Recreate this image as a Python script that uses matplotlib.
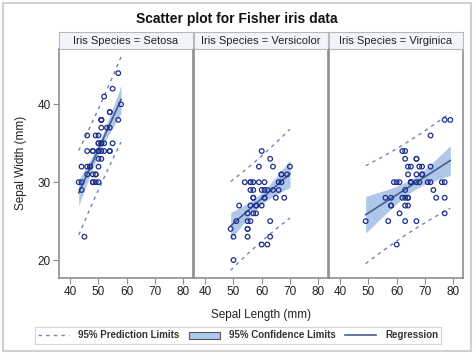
import matplotlib
matplotlib.use("Agg")
import matplotlib.pyplot as plt
from matplotlib.patches import Rectangle, Patch
from matplotlib.lines import Line2D
import numpy as np

plt.rcParams['font.family'] = ['Liberation Sans', 'DejaVu Sans']

# Fisher iris data, sepal length / width in mm
setosa_len = [51, 49, 47, 46, 50, 54, 46, 50, 44, 49, 54, 48, 48, 43, 58, 57, 54, 51, 57, 51,
              54, 51, 46, 51, 48, 50, 50, 52, 52, 47, 48, 54, 52, 55, 49, 50, 55, 49, 44, 51,
              50, 45, 44, 50, 51, 48, 51, 46, 53, 50]
setosa_wid = [35, 30, 32, 31, 36, 39, 34, 34, 29, 31, 37, 34, 30, 30, 40, 44, 39, 35, 38, 38,
              34, 37, 36, 33, 34, 30, 34, 35, 34, 32, 31, 34, 41, 42, 31, 32, 35, 36, 30, 34,
              35, 23, 32, 35, 38, 30, 38, 32, 37, 33]
versicolor_len = [70, 64, 69, 55, 65, 57, 63, 49, 66, 52, 50, 59, 60, 61, 56, 67, 56, 58, 62, 56,
                  59, 61, 63, 61, 64, 66, 68, 67, 60, 57, 55, 55, 58, 60, 54, 60, 67, 63, 56, 55,
                  55, 61, 58, 50, 56, 57, 57, 62, 51, 57]
versicolor_wid = [32, 32, 31, 23, 28, 28, 33, 24, 29, 27, 20, 30, 22, 29, 29, 31, 30, 27, 22, 25,
                  32, 28, 25, 28, 29, 30, 28, 30, 29, 26, 24, 24, 27, 27, 30, 34, 31, 23, 30, 25,
                  26, 30, 26, 23, 27, 30, 29, 29, 25, 28]
virginica_len = [63, 58, 71, 63, 65, 76, 49, 73, 67, 72, 65, 64, 68, 57, 58, 64, 65, 77, 77, 60,
                 69, 56, 77, 63, 67, 72, 62, 61, 64, 72, 74, 79, 64, 63, 61, 77, 63, 64, 60, 69,
                 67, 69, 58, 68, 67, 67, 63, 65, 62, 59]
virginica_wid = [33, 27, 30, 29, 30, 30, 25, 29, 25, 36, 32, 27, 30, 25, 28, 32, 30, 38, 26, 22,
                 32, 28, 28, 27, 33, 32, 28, 30, 28, 30, 28, 38, 28, 28, 26, 30, 34, 31, 30, 31,
                 31, 31, 27, 32, 33, 30, 25, 30, 34, 30]

species = ['Setosa', 'Versicolor', 'Virginica']
lengths = [setosa_len, versicolor_len, virginica_len]
widths = [setosa_wid, versicolor_wid, virginica_wid]
t_crit = 2.0106  # t(0.975, df=48)

W, H = 474, 355
fig = plt.figure(figsize=(W / 100, H / 100), dpi=100)

marker_col = '#1C2F8C'
reg_col = '#4A5A8E'
band_col = '#AFC8E9'
pi_col = '#7482B4'
frame_col = '#8E8E8E'

panels = [(59, 193), (194, 328), (329, 463)]
top, bottom, head_top = 49, 278, 32


def px(x0, x1, y0, y1):
    return [x0 / W, 1 - y1 / H, (x1 - x0) / W, (y1 - y0) / H]


for i, (x0, x1) in enumerate(panels):
    ax = fig.add_axes(px(x0, x1, top, bottom))
    x = np.array(lengths[i], float)
    y = np.array(widths[i], float)
    n = len(x)
    b, a = np.polyfit(x, y, 1)
    resid = y - (a + b * x)
    s = np.sqrt(np.sum(resid ** 2) / (n - 2))
    sxx = np.sum((x - x.mean()) ** 2)
    xs = np.linspace(x.min(), x.max(), 100)
    fit = a + b * xs
    se_m = s * np.sqrt(1 / n + (xs - x.mean()) ** 2 / sxx)
    se_p = s * np.sqrt(1 + 1 / n + (xs - x.mean()) ** 2 / sxx)
    ax.fill_between(xs, fit - t_crit * se_m, fit + t_crit * se_m, color=band_col,
                    lw=0, zorder=1)
    ax.plot(xs, fit, color=reg_col, lw=1.2, zorder=2)
    ax.plot(xs, fit - t_crit * se_p, color=pi_col, lw=1, ls=(0, (2.5, 3)), zorder=2)
    ax.plot(xs, fit + t_crit * se_p, color=pi_col, lw=1, ls=(0, (2.5, 3)), zorder=2)
    ax.scatter(x, y, s=11, facecolors='none', edgecolors=marker_col, linewidths=0.9, zorder=3)

    ax.set_xlim(36, 83.5)
    ax.set_ylim(17.7, 47.1)
    ax.set_xticks([40, 50, 60, 70, 80])
    ax.tick_params(axis='x', direction='out', length=4, color=frame_col, labelsize=8.5,
                   labelcolor='#222222', pad=2)
    if i == 0:
        ax.set_yticks([20, 30, 40])
        ax.tick_params(axis='y', direction='out', length=4, color=frame_col, labelsize=8.5,
                       labelcolor='#222222', pad=2)
    else:
        ax.set_yticks([])
    for sp in ax.spines.values():
        sp.set_color(frame_col)
        sp.set_linewidth(1.2)

    hax = fig.add_axes(px(x0, x1, head_top, top))
    hax.set_xticks([])
    hax.set_yticks([])
    hax.set_facecolor('#F1F4FA')
    for sp in hax.spines.values():
        sp.set_color('#B8B8B8')
        sp.set_linewidth(0.8)
    hax.text(0.5, 0.5, 'Iris Species = ' + species[i], ha='center', va='center',
             fontsize=8, color='#222222', transform=hax.transAxes)

fig.text(237 / W, 1 - 19 / H, 'Scatter plot for Fisher iris data', ha='center', va='center',
         fontsize=10, fontweight='bold', color='#111111')
fig.text(261 / W, 1 - 315 / H, 'Sepal Length (mm)', ha='center', va='center',
         fontsize=8.5, color='#222222')
fig.text(21 / W, 1 - 163 / H, 'Sepal Width (mm)', ha='center', va='center',
         fontsize=8.5, color='#222222', rotation=90)

handles = [Line2D([], [], color=pi_col, lw=1, ls=(0, (2.5, 3))),
           Patch(facecolor=band_col, edgecolor='#555555', lw=0.8),
           Line2D([], [], color=reg_col, lw=1.2)]
labels = ['95% Prediction Limits', '95% Confidence Limits', 'Regression']
leg = fig.legend(handles, labels, loc='center', bbox_to_anchor=(238 / W, 1 - 335.5 / H),
                 ncol=3, frameon=True, handlelength=3.2, columnspacing=1.0,
                 handletextpad=0.9, borderpad=0.35, fancybox=False,
                 prop={'weight': 'bold', 'size': 7})
leg.get_frame().set_edgecolor('#C8C8C8')
leg.get_frame().set_linewidth(0.8)
for t in leg.get_texts():
    t.set_color('#333333')

fig.patches.append(Rectangle((3 / W, 4 / H), 468 / W, 348 / H, transform=fig.transFigure,
                             fill=False, edgecolor='#D0D0D0', lw=1.5))

fig.savefig('out.png', dpi=100)
